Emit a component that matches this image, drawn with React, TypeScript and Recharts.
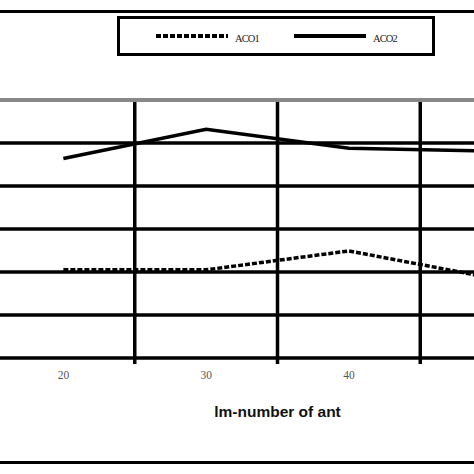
import { CartesianGrid, Legend, Line, LineChart, ReferenceLine, XAxis, YAxis } from 'recharts'

// number of ants (lm) on the x axis
const ants = [20, 30, 40, 50]
const aco1 = [2.05, 2.05, 2.49, 1.86]
const aco2 = [4.64, 5.32, 4.88, 4.81]
const antTicks = [20, 30, 40]
const bandEdges = [15, 25, 35, 45, 55]
const yTicks = [0, 1, 2, 3, 4, 5, 6]

const series = [
  { key: 'ACO1', values: aco1, dash: '5 2' },
  { key: 'ACO2', values: aco2, dash: undefined },
]

const data = ants.map((a, i) => ({ ants: a, ACO1: aco1[i], ACO2: aco2[i] }))

const LegendBox = () => (
  <div style={{
    boxSizing: 'border-box', width: 318, height: 40, border: '3px solid #000',
    display: 'flex', alignItems: 'center', paddingLeft: 36, background: '#fff'
  }}>
    {series.map((s) => (
      <div key={s.key} style={{ display: 'flex', alignItems: 'center', width: 142 }}>
        <svg width={72} height={6}>
          <line x1={0} y1={3} x2={72} y2={3} stroke="#000" strokeWidth={4} strokeDasharray={s.dash} />
        </svg>
        <span style={{
          marginLeft: 7, fontFamily: '"Liberation Serif", serif', fontSize: 10.5,
          letterSpacing: -0.9, color: '#222', position: 'relative', top: 2
        }}>{s.key}</span>
      </div>
    ))}
  </div>
)

const NoTick = () => <g />

export default function App() {
  return (
    <div style={{ position: 'absolute', left: 0, top: 0, width: 474, height: 474, overflow: 'hidden', background: '#fff' }}>
      <div style={{ position: 'absolute', left: -100, top: 10, border: '3px solid #000', width: 700, height: 448 }}>
        <LineChart width={700} height={448} data={data} margin={{ top: 87, right: 40, left: 89, bottom: 37 }}>
          <XAxis xAxisId="grid" type="number" dataKey="ants" domain={[15, 55]} ticks={bandEdges} interval={0}
            tick={NoTick} axisLine={false} tickLine={{ stroke: '#000', strokeWidth: 3.5 }} tickSize={6} height={6} />
          <XAxis xAxisId="lab" type="number" dataKey="ants" domain={[15, 55]} ticks={antTicks} interval={0}
            axisLine={false} tickLine={false} tickSize={6} tickMargin={1} height={60}
            tick={{ fill: '#555', fontSize: 11.5, fontFamily: '"Liberation Serif", serif' }}
            label={{ value: 'lm-number of ant', position: 'insideTop', offset: 42, fill: '#111',
              fontSize: 15.5, fontWeight: 'bold', fontFamily: '"Liberation Sans", sans-serif' }} />
          <YAxis domain={[0, 6]} ticks={yTicks} hide />
          <CartesianGrid xAxisId="grid" stroke="#000" strokeWidth={3.5} strokeOpacity={1} />
          <ReferenceLine xAxisId="lab" y={6} stroke="#888" strokeWidth={4} />
          <Legend verticalAlign="middle" align="center" layout="horizontal"
            wrapperStyle={{ top: 3, left: 214, width: 318 }} content={() => <LegendBox />} />
          {series.map((s) => (
            <Line key={s.key} xAxisId="lab" type="linear" dataKey={s.key} stroke="#000" strokeWidth={3.5}
              strokeDasharray={s.dash} dot={false} activeDot={false} isAnimationActive={false} />
          ))}
        </LineChart>
      </div>
    </div>
  )
}
